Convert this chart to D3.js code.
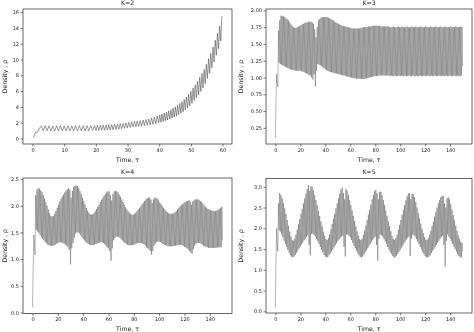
<!DOCTYPE html>
<html>
<head>
<meta charset="utf-8">
<script src="https://cdn.jsdelivr.net/npm/d3@7"></script>
<style>
  body { margin: 0; background: #fff; }
  svg { display: block; filter: grayscale(1); }
  text { font-family: "DejaVu Sans", sans-serif; fill: #222; }
</style>
</head>
<body>
<svg id="fig" width="474" height="332"></svg>
<script>
// ---- data: density rho against time tau for four values of K ----
const panelTitles = ["K=2", "K=3", "K=4", "K=5"];

// K=2: start-up transient, then an oscillation that keeps growing
const k2Time = [0.3, 0.9, 1.6,
  2.2, 2.8, 3.4, 4.0, 4.6, 5.2, 5.8, 6.4, 7.0, 7.6,
  8.2, 8.8, 9.4, 10.0, 10.6, 11.2, 11.8, 12.4, 13.0, 13.6,
  14.2, 14.8, 15.4, 16.0, 16.6, 17.2, 17.8, 18.4, 19.0, 19.6,
  20.05, 20.5, 20.95, 21.4, 21.85, 22.3, 22.75, 23.2, 23.65, 24.1,
  24.55, 25.0, 25.45, 25.9, 26.35, 26.8, 27.25, 27.7, 28.15, 28.6,
  29.05, 29.5, 29.95, 30.4, 30.85, 31.3, 31.75, 32.2, 32.65, 33.1,
  33.55, 34.0, 34.45, 34.9, 35.35, 35.8, 36.25, 36.7, 37.15, 37.6,
  38.05, 38.5, 38.95, 39.4, 39.85,
  40.2, 40.55, 40.9, 41.25, 41.6, 41.95, 42.3, 42.65, 43.0, 43.35,
  43.7, 44.05, 44.4, 44.75, 45.1, 45.45, 45.8, 46.15, 46.5, 46.85,
  47.2, 47.55, 47.9, 48.25, 48.6, 48.95, 49.3, 49.65, 50.0, 50.35,
  50.7, 51.05, 51.4, 51.75, 52.1, 52.45, 52.8, 53.15, 53.5, 53.85,
  54.2, 54.55, 54.9, 55.25, 55.6, 55.95, 56.3, 56.65, 57.0, 57.35,
  57.7, 58.05, 58.4, 58.75, 59.1, 59.45, 59.8];
const k2Rho = [0.1, 0.75, 0.8,
  1.3, 1.6, 1.0, 1.62, 0.98, 1.6, 0.95, 1.58, 0.94, 1.6,
  0.95, 1.6, 0.94, 1.58, 0.95, 1.6, 0.95, 1.6, 0.96, 1.6,
  0.96, 1.61, 0.97, 1.61, 0.98, 1.62, 0.98, 1.63, 0.99, 1.64,
  1.0, 1.66, 1.01, 1.67, 1.03, 1.69, 1.04, 1.71, 1.06, 1.73,
  1.08, 1.77, 1.1, 1.81, 1.13, 1.85, 1.17, 1.89, 1.23, 1.93,
  1.28, 1.98, 1.33, 2.05, 1.38, 2.11, 1.44, 2.17, 1.48, 2.22,
  1.53, 2.28, 1.58, 2.34, 1.63, 2.41, 1.68, 2.48, 1.72, 2.6,
  1.8, 2.7, 1.87, 2.85, 1.98,
  2.98, 2.05, 3.08, 2.15, 3.22, 2.24, 3.35, 2.34, 3.5, 2.45,
  3.66, 2.58, 3.84, 2.7, 4.0, 2.84, 4.22, 3.02, 4.45, 3.2,
  4.68, 3.37, 4.95, 3.62, 5.25, 3.85, 5.6, 4.1, 6.0, 4.45,
  6.4, 4.8, 6.8, 5.15, 7.25, 5.55, 7.75, 5.95, 8.25, 6.4,
  8.75, 6.95, 9.4, 7.6, 10.1, 8.25, 10.8, 8.95, 11.6, 9.7,
  12.45, 10.55, 13.3, 11.4, 14.25, 12.35, 15.5];

// K=3, 4, 5 share one sampling of tau (an extremum every half unit)
const tau = [
  0, 0.5, 1, 1.5, 2, 2.5, 3, 3.5, 4, 4.5, 5, 5.5, 6, 6.5, 7, 7.5, 8, 8.5, 9, 9.5,
  10, 10.5, 11, 11.5, 12, 12.5, 13, 13.5, 14, 14.5, 15, 15.5, 16, 16.5, 17, 17.5, 18, 18.5, 19, 19.5,
  20, 20.5, 21, 21.5, 22, 22.5, 23, 23.5, 24, 24.5, 25, 25.5, 26, 26.5, 27, 27.5, 28, 28.5, 29, 29.5,
  30, 30.5, 31, 31.5, 32, 32.5, 33, 33.5, 34, 34.5, 35, 35.5, 36, 36.5, 37, 37.5, 38, 38.5, 39, 39.5,
  40, 40.5, 41, 41.5, 42, 42.5, 43, 43.5, 44, 44.5, 45, 45.5, 46, 46.5, 47, 47.5, 48, 48.5, 49, 49.5,
  50, 50.5, 51, 51.5, 52, 52.5, 53, 53.5, 54, 54.5, 55, 55.5, 56, 56.5, 57, 57.5, 58, 58.5, 59, 59.5,
  60, 60.5, 61, 61.5, 62, 62.5, 63, 63.5, 64, 64.5, 65, 65.5, 66, 66.5, 67, 67.5, 68, 68.5, 69, 69.5,
  70, 70.5, 71, 71.5, 72, 72.5, 73, 73.5, 74, 74.5, 75, 75.5, 76, 76.5, 77, 77.5, 78, 78.5, 79, 79.5,
  80, 80.5, 81, 81.5, 82, 82.5, 83, 83.5, 84, 84.5, 85, 85.5, 86, 86.5, 87, 87.5, 88, 88.5, 89, 89.5,
  90, 90.5, 91, 91.5, 92, 92.5, 93, 93.5, 94, 94.5, 95, 95.5, 96, 96.5, 97, 97.5, 98, 98.5, 99, 99.5,
  100, 100.5, 101, 101.5, 102, 102.5, 103, 103.5, 104, 104.5, 105, 105.5, 106, 106.5, 107, 107.5, 108, 108.5, 109, 109.5,
  110, 110.5, 111, 111.5, 112, 112.5, 113, 113.5, 114, 114.5, 115, 115.5, 116, 116.5, 117, 117.5, 118, 118.5, 119, 119.5,
  120, 120.5, 121, 121.5, 122, 122.5, 123, 123.5, 124, 124.5, 125, 125.5, 126, 126.5, 127, 127.5, 128, 128.5, 129, 129.5,
  130, 130.5, 131, 131.5, 132, 132.5, 133, 133.5, 134, 134.5, 135, 135.5, 136, 136.5, 137, 137.5, 138, 138.5, 139, 139.5,
  140, 140.5, 141, 141.5, 142, 142.5, 143, 143.5, 144, 144.5, 145, 145.5, 146, 146.5, 147, 147.5, 148, 148.5, 149, 149.5,
  150];

const k3Rho = [
  0.1, 0.6, 1.05, 0.9, 0.86, 1.7, 1.22, 1.85, 1.2, 1.92, 1.19, 1.92, 1.18, 1.91, 1.17, 1.9, 1.16, 1.88, 1.15, 1.87,
  1.14, 1.85, 1.13, 1.82, 1.12, 1.79, 1.12, 1.77, 1.11, 1.75, 1.11, 1.74, 1.1, 1.74, 1.1, 1.75, 1.1, 1.76, 1.1, 1.77,
  1.1, 1.78, 1.09, 1.79, 1.09, 1.8, 1.08, 1.81, 1.07, 1.82, 1.06, 1.82, 1.05, 1.83, 1.04, 1.83, 1.03, 1.83, 1.0, 1.82,
  0.97, 1.8, 1.05, 1.72, 0.87, 1.6, 1.1, 1.75, 1.2, 1.85, 1.19, 1.87, 1.18, 1.89, 1.17, 1.9, 1.15, 1.9, 1.14, 1.9,
  1.12, 1.9, 1.11, 1.9, 1.1, 1.89, 1.09, 1.88, 1.08, 1.87, 1.08, 1.86, 1.07, 1.85, 1.07, 1.83, 1.06, 1.82, 1.06, 1.81,
  1.05, 1.8, 1.05, 1.79, 1.04, 1.78, 1.04, 1.77, 1.03, 1.77, 1.03, 1.76, 1.02, 1.76, 1.02, 1.75, 1.01, 1.75, 1.01, 1.74,
  1.0, 1.74, 1.0, 1.73, 0.99, 1.73, 0.99, 1.73, 0.99, 1.73, 0.98, 1.73, 0.98, 1.73, 0.98, 1.73, 0.98, 1.74, 0.98, 1.74,
  0.98, 1.75, 0.98, 1.75, 0.98, 1.75, 0.99, 1.75, 0.99, 1.76, 1.0, 1.76, 1.0, 1.76, 1.01, 1.77, 1.01, 1.77, 1.02, 1.77,
  1.02, 1.77, 1.02, 1.77, 1.02, 1.77, 1.03, 1.77, 1.03, 1.76, 1.03, 1.76, 1.03, 1.76, 1.03, 1.76, 1.03, 1.76, 1.03, 1.76,
  1.03, 1.76, 1.03, 1.75, 1.02, 1.75, 1.03, 1.75, 1.02, 1.76, 1.02, 1.75, 1.03, 1.75, 1.02, 1.75, 1.02, 1.76, 1.03, 1.75,
  1.02, 1.75, 1.03, 1.76, 1.02, 1.75, 1.02, 1.75, 1.03, 1.75, 1.02, 1.76, 1.02, 1.75, 1.03, 1.75, 1.02, 1.75, 1.02, 1.76,
  1.03, 1.75, 1.02, 1.75, 1.02, 1.76, 1.03, 1.75, 1.02, 1.75, 1.02, 1.75, 1.03, 1.76, 1.02, 1.75, 1.02, 1.75, 1.03, 1.75,
  1.02, 1.76, 1.02, 1.75, 1.03, 1.75, 1.02, 1.75, 1.02, 1.76, 1.03, 1.75, 1.02, 1.75, 1.02, 1.75, 1.03, 1.76, 1.02, 1.75,
  1.02, 1.75, 1.03, 1.75, 1.02, 1.76, 1.02, 1.75, 1.03, 1.75, 1.02, 1.75, 1.02, 1.76, 1.03, 1.75, 1.02, 1.75, 1.02, 1.75,
  1.03, 1.76, 1.02, 1.75, 1.02, 1.75, 1.03, 1.75, 1.02, 1.76, 1.02, 1.75, 1.03, 1.75, 1.02, 1.75, 1.02, 1.76, 1.03, 1.75,
  1.17];

const k4Rho = [
  0.1, 0.8, 1.45, 1.3, 1.08, 2.2, 1.55, 2.3, 1.52, 2.33, 1.49, 2.32, 1.45, 2.29, 1.41, 2.26, 1.38, 2.2, 1.35, 2.14,
  1.32, 2.07, 1.3, 2.0, 1.27, 1.93, 1.26, 1.86, 1.25, 1.81, 1.25, 1.8, 1.25, 1.81, 1.26, 1.85, 1.27, 1.9, 1.29, 1.96,
  1.3, 2.02, 1.31, 2.08, 1.32, 2.13, 1.31, 2.17, 1.3, 2.21, 1.29, 2.25, 1.27, 2.28, 1.25, 2.31, 1.22, 2.33, 1.18, 2.3,
  0.9, 2.15, 1.2, 2.28, 1.3, 2.35, 1.4, 2.37, 1.48, 2.38, 1.5, 2.37, 1.5, 2.33, 1.48, 2.28, 1.45, 2.22, 1.41, 2.15,
  1.38, 2.09, 1.35, 2.02, 1.32, 1.96, 1.3, 1.91, 1.28, 1.87, 1.27, 1.84, 1.26, 1.83, 1.26, 1.84, 1.26, 1.86, 1.27, 1.9,
  1.28, 1.94, 1.29, 1.98, 1.3, 2.02, 1.31, 2.07, 1.32, 2.11, 1.31, 2.15, 1.3, 2.19, 1.28, 2.22, 1.25, 2.25, 1.22, 2.27,
  1.2, 2.27, 1.15, 2.2, 0.97, 2.1, 1.2, 2.22, 1.35, 2.27, 1.39, 2.28, 1.42, 2.27, 1.42, 2.25, 1.42, 2.21, 1.4, 2.17,
  1.37, 2.12, 1.35, 2.07, 1.32, 2.02, 1.3, 1.97, 1.28, 1.93, 1.27, 1.9, 1.26, 1.87, 1.26, 1.85, 1.26, 1.83, 1.26, 1.83,
  1.27, 1.85, 1.28, 1.87, 1.29, 1.9, 1.3, 1.93, 1.3, 1.96, 1.3, 1.99, 1.3, 2.03, 1.29, 2.06, 1.28, 2.09, 1.25, 2.12,
  1.22, 2.14, 1.2, 2.15, 1.18, 2.16, 1.15, 2.12, 1.08, 2.05, 1.15, 2.12, 1.25, 2.15, 1.29, 2.15, 1.32, 2.13, 1.33, 2.1,
  1.33, 2.06, 1.32, 2.03, 1.3, 1.99, 1.28, 1.96, 1.27, 1.93, 1.26, 1.9, 1.25, 1.88, 1.24, 1.86, 1.24, 1.85, 1.24, 1.85,
  1.24, 1.85, 1.24, 1.86, 1.25, 1.88, 1.25, 1.9, 1.26, 1.93, 1.26, 1.96, 1.27, 1.99, 1.27, 2.01, 1.26, 2.03, 1.25, 2.05,
  1.23, 2.07, 1.22, 2.08, 1.2, 2.09, 1.18, 2.1, 1.15, 2.08, 1.12, 2.02, 1.1, 2.08, 1.18, 2.1, 1.25, 2.12, 1.28, 2.12,
  1.3, 2.12, 1.3, 2.11, 1.3, 2.09, 1.29, 2.07, 1.27, 2.04, 1.25, 2.01, 1.24, 1.98, 1.23, 1.96, 1.22, 1.94, 1.21, 1.93,
  1.21, 1.92, 1.21, 1.91, 1.21, 1.9, 1.21, 1.9, 1.21, 1.9, 1.21, 1.91, 1.22, 1.92, 1.22, 1.94, 1.22, 1.96, 1.22, 1.98,
  1.35];

const k5Rho = [
  0.1, 1.2, 2.0, 1.6, 1.45, 2.6, 1.95, 2.85, 1.92, 2.8, 1.85, 2.72, 1.78, 2.6, 1.7, 2.48, 1.62, 2.35, 1.55, 2.2,
  1.48, 2.06, 1.41, 1.92, 1.35, 1.8, 1.31, 1.72, 1.3, 1.7, 1.32, 1.75, 1.36, 1.85, 1.41, 1.97, 1.46, 2.1, 1.51, 2.22,
  1.56, 2.35, 1.61, 2.47, 1.66, 2.6, 1.71, 2.72, 1.75, 2.84, 1.8, 2.95, 1.83, 3.04, 1.6, 2.9, 1.35, 3.02, 1.86, 3.0,
  1.87, 2.92, 1.84, 2.8, 1.8, 2.68, 1.74, 2.55, 1.68, 2.42, 1.62, 2.3, 1.55, 2.17, 1.48, 2.05, 1.42, 1.92, 1.36, 1.82,
  1.32, 1.74, 1.3, 1.72, 1.31, 1.77, 1.35, 1.86, 1.39, 1.98, 1.44, 2.1, 1.49, 2.23, 1.54, 2.35, 1.59, 2.48, 1.64, 2.6,
  1.69, 2.72, 1.73, 2.83, 1.77, 2.93, 1.8, 2.98, 1.82, 2.85, 1.55, 2.7, 1.32, 2.95, 1.85, 2.9, 1.85, 2.8, 1.82, 2.68,
  1.78, 2.56, 1.72, 2.43, 1.65, 2.3, 1.58, 2.18, 1.52, 2.05, 1.46, 1.93, 1.4, 1.82, 1.35, 1.74, 1.31, 1.72, 1.3, 1.75,
  1.32, 1.84, 1.37, 1.95, 1.42, 2.07, 1.47, 2.2, 1.52, 2.33, 1.57, 2.45, 1.62, 2.57, 1.67, 2.7, 1.72, 2.8, 1.76, 2.9,
  1.8, 2.93, 1.6, 2.85, 1.22, 2.7, 1.75, 2.88, 1.85, 2.88, 1.83, 2.8, 1.8, 2.68, 1.74, 2.56, 1.68, 2.43, 1.62, 2.3,
  1.55, 2.17, 1.49, 2.05, 1.43, 1.93, 1.38, 1.82, 1.33, 1.74, 1.3, 1.72, 1.3, 1.76, 1.34, 1.85, 1.38, 1.96, 1.43, 2.08,
  1.48, 2.2, 1.53, 2.32, 1.58, 2.44, 1.63, 2.56, 1.68, 2.67, 1.73, 2.77, 1.77, 2.84, 1.8, 2.85, 1.33, 2.7, 1.75, 2.83,
  1.85, 2.82, 1.83, 2.75, 1.8, 2.63, 1.74, 2.5, 1.68, 2.37, 1.62, 2.24, 1.55, 2.11, 1.49, 1.99, 1.43, 1.88, 1.38, 1.79,
  1.33, 1.73, 1.3, 1.72, 1.3, 1.76, 1.32, 1.84, 1.35, 1.94, 1.4, 2.05, 1.45, 2.16, 1.5, 2.28, 1.55, 2.39, 1.6, 2.5,
  1.65, 2.6, 1.7, 2.68, 1.75, 2.75, 1.79, 2.78, 1.82, 2.78, 1.6, 2.6, 1.08, 2.5, 1.7, 2.72, 1.85, 2.75, 1.8, 2.7,
  1.75, 2.58, 1.69, 2.45, 1.62, 2.32, 1.56, 2.19, 1.5, 2.06, 1.44, 1.94, 1.38, 1.83, 1.33, 1.74, 1.3, 1.68, 1.3, 1.65,
  1.45];

// tick values
const xTicksK2 = [0, 10, 20, 30, 40, 50, 60];
const xTicksLong = [0, 20, 40, 60, 80, 100, 120, 140];
const yTicksK2 = [0, 2, 4, 6, 8, 10, 12, 14, 16];
const yTicksK3 = [0.25, 0.5, 0.75, 1.0, 1.25, 1.5, 1.75, 2.0];
const yTicksK4 = [0, 0.5, 1.0, 1.5, 2.0, 2.5];
const yTicksK5 = [0, 0.5, 1.0, 1.5, 2.0, 2.5, 3.0];

// ---- layout ----
const panels = [
  { title: panelTitles[0], t: k2Time, rho: k2Rho,
    box: { x0: 23, x1: 232, y0: 9, y1: 144 },
    xDom: [-3, 63], yDom: [-0.7, 16.4], xTicks: xTicksK2, yTicks: yTicksK2, yFmt: d3.format("d") },
  { title: panelTitles[1], t: tau, rho: k3Rho,
    box: { x0: 266, x1: 472, y0: 9, y1: 144 },
    xDom: [-7.5, 157.5], yDom: [0.01, 2.02], xTicks: xTicksLong, yTicks: yTicksK3, yFmt: d3.format(".2f") },
  { title: panelTitles[2], t: tau, rho: k4Rho,
    box: { x0: 23, x1: 232, y0: 178, y1: 313.5 },
    xDom: [-7.5, 157.5], yDom: [-0.02, 2.52], xTicks: xTicksLong, yTicks: yTicksK4, yFmt: d3.format(".1f") },
  { title: panelTitles[3], t: tau, rho: k5Rho,
    box: { x0: 266, x1: 472, y0: 178.5, y1: 313 },
    xDom: [-7.5, 157.5], yDom: [-0.04, 3.2], xTicks: xTicksLong, yTicks: yTicksK5, yFmt: d3.format(".1f") }
];

const svg = d3.select("#fig");
const ink = "#262626";

panels.forEach((p, i) => {
  const { x0, x1, y0, y1 } = p.box;
  const x = d3.scaleLinear().domain(p.xDom).range([x0, x1]);
  const y = d3.scaleLinear().domain(p.yDom).range([y1, y0]);
  const g = svg.append("g");

  const n = Math.min(p.t.length, p.rho.length);
  const pts = d3.range(n).map(j => [p.t[j], p.rho[j]]);

  g.append("path")
    .datum(pts)
    .attr("fill", "none")
    .attr("stroke", "#444")
    .attr("stroke-width", i === 0 ? 0.55 : 0.4)
    .attr("stroke-linejoin", "miter")
    .attr("d", d3.line().x(d => x(d[0])).y(d => y(d[1])));

  // axes
  const ax = g.append("g").attr("transform", `translate(0,${y1})`)
    .call(d3.axisBottom(x).tickValues(p.xTicks).tickSize(2.5).tickPadding(1.5).tickFormat(d3.format("d")));
  const ay = g.append("g").attr("transform", `translate(${x0},0)`)
    .call(d3.axisLeft(y).tickValues(p.yTicks).tickSize(2.5).tickPadding(1.5).tickFormat(p.yFmt));
  [ax, ay].forEach(a => {
    a.select(".domain").remove();
    a.selectAll(".tick line").attr("stroke", ink).attr("stroke-width", 0.6);
    a.selectAll(".tick text").attr("font-size", 5).attr("fill", ink)
      .attr("font-family", '"DejaVu Sans", sans-serif');
  });

  // frame
  g.append("rect")
    .attr("x", x0).attr("y", y0).attr("width", x1 - x0).attr("height", y1 - y0)
    .attr("fill", "none").attr("stroke", ink).attr("stroke-width", 0.7);

  const cx = (x0 + x1) / 2;
  g.append("text").attr("x", cx).attr("y", y0 - 4.3)
    .attr("text-anchor", "middle").attr("font-size", 6.2).text(p.title);
  g.append("text").attr("x", cx).attr("y", y1 + 17.5)
    .attr("text-anchor", "middle").attr("font-size", 6.2).text("Time, \u03c4");
  const lx = i % 2 === 0 ? 5 : 241;
  g.append("text")
    .attr("transform", `translate(${lx},${(y0 + y1) / 2}) rotate(-90)`)
    .attr("text-anchor", "middle").attr("dy", "0.35em")
    .attr("font-size", 6.2).text("Density , \u03c1");
});
</script>
</body>
</html>
